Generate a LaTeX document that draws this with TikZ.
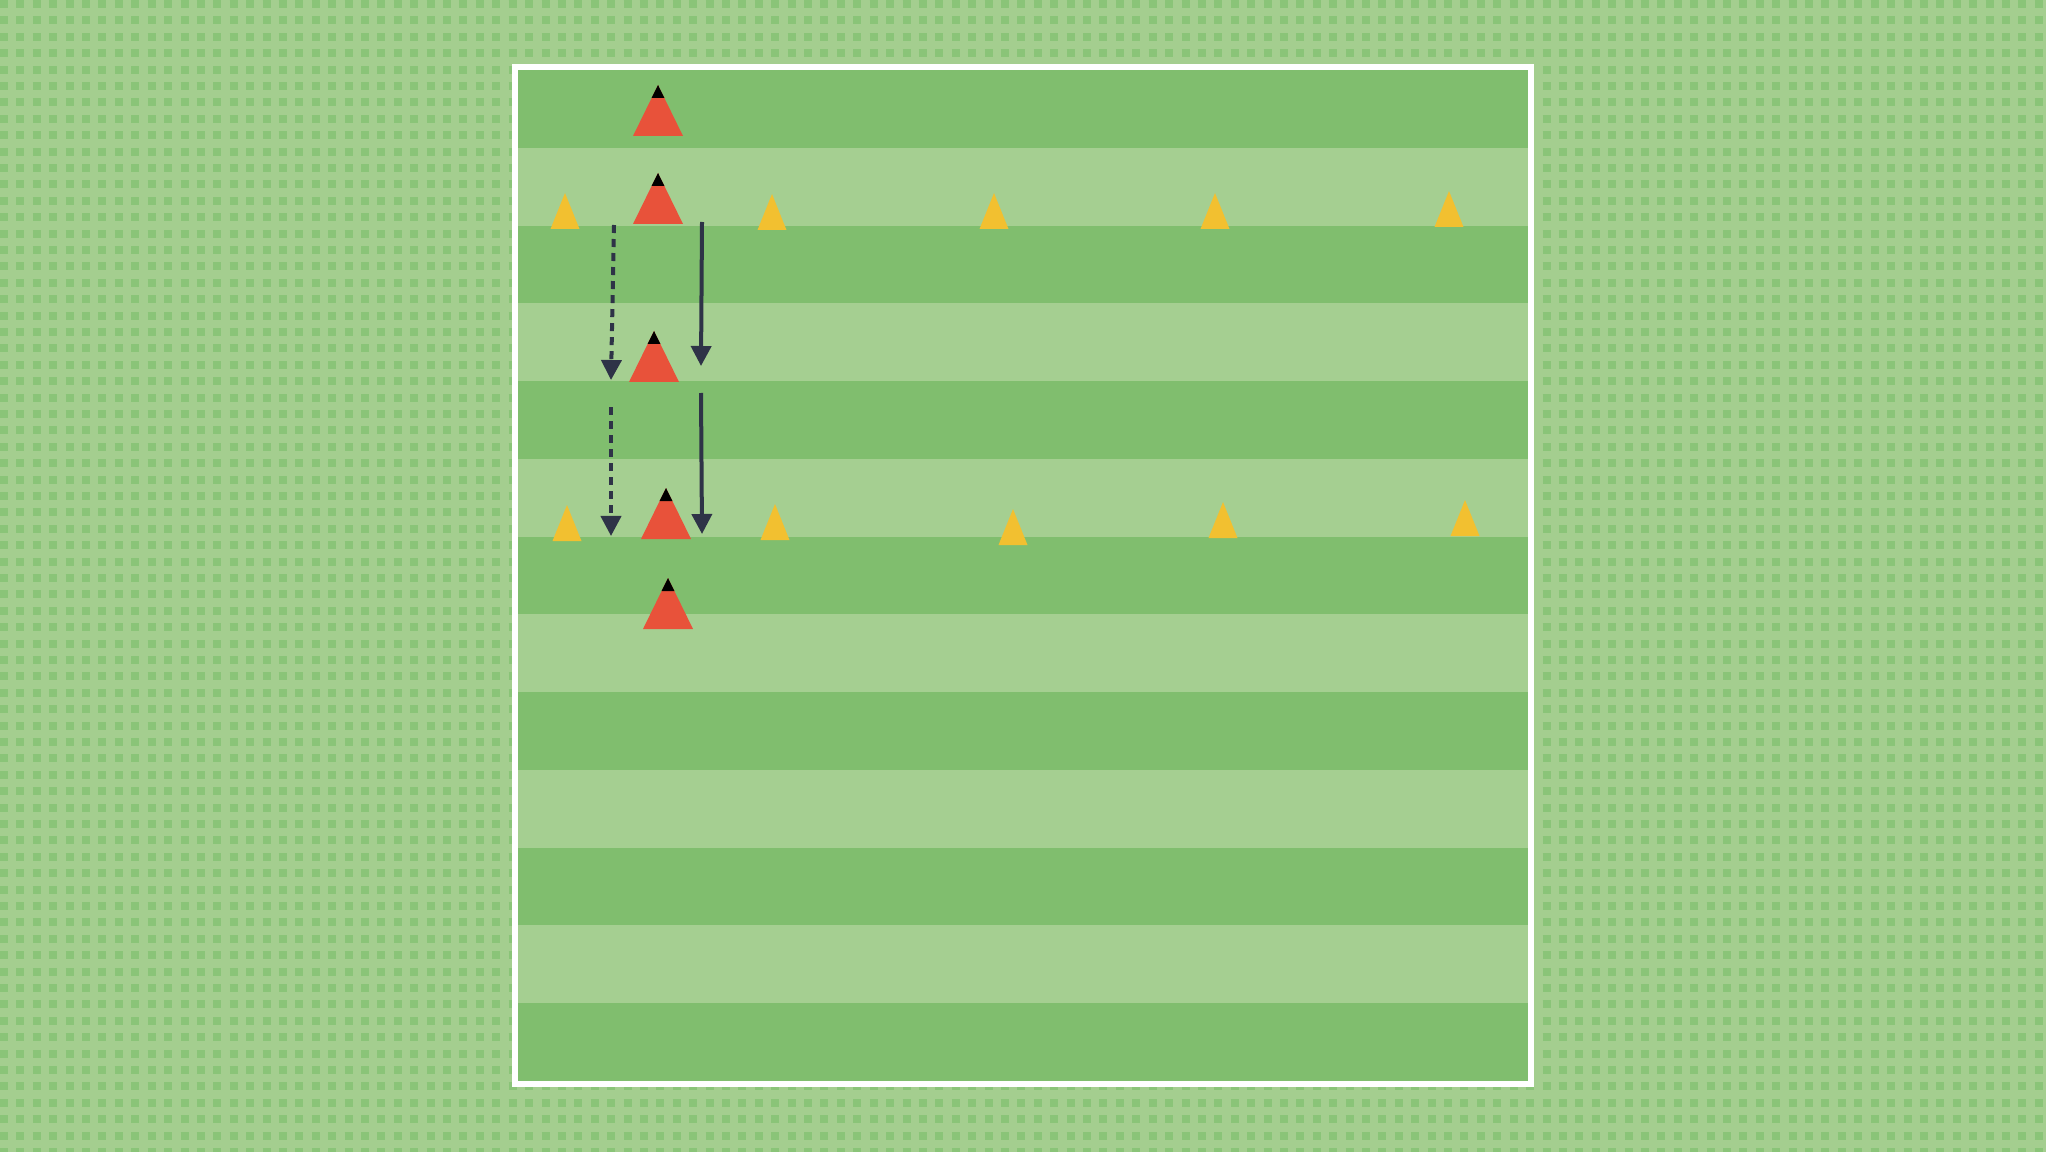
\documentclass[tikz,border=0pt]{standalone}
\usetikzlibrary{arrows.meta}

\definecolor{fond}{RGB}{164,206,143}
\definecolor{carre}{RGB}{138,196,120}
\definecolor{bandeA}{RGB}{128,190,110}
\definecolor{bandeB}{RGB}{165,207,145}
\definecolor{rouge}{RGB}{232,82,58}
\definecolor{jaune}{RGB}{242,192,48}
\definecolor{trait}{RGB}{46,51,71}

\newcommand{\plotrouge}[1]{
    \begin{scope}[shift={#1}]
        \fill[rouge] (-25,0) -- (25,0) -- (0,-51) -- cycle;
        \fill[black] (-6.4,-38) -- (6.4,-38) -- (0,-51) -- cycle;
    \end{scope}
}
\newcommand{\coupelle}[1]{
    \fill[jaune,shift={#1}] (-14.5,0) -- (14.5,0) -- (0,-36) -- cycle;
}

\tikzset{
    course/.style={trait, line width=0.04cm, -{Triangle[width=0.2cm,length=0.2cm]}},
    conduite/.style={course, dash pattern=on 0.08cm off 0.06cm},
}

\begin{document}
\begin{tikzpicture}[x=0.01cm,y=-0.01cm]
    \useasboundingbox (0,0) rectangle (2046,1152);

    % fond a carreaux
    \fill[fond] (0,0) rectangle (2046,1152);
    \foreach \j in {0,...,70}
        \draw[carre, line width=0.08cm, dash pattern=on 0.08cm off 0.084cm] (0,4+16.4*\j) -- (2046,4+16.4*\j);

    % terrain
    \fill[white] (512,64) rectangle (1534,1087);
    \foreach \i in {0,...,12} {
        \pgfmathsetmacro{\ya}{70+77.77*\i}
        \pgfmathsetmacro{\yb}{70+77.77*(\i+1)}
        \ifodd\i
            \fill[bandeB] (518,\ya) rectangle (1528,\yb);
        \else
            \fill[bandeA] (518,\ya) rectangle (1528,\yb);
        \fi
    }

    % plots
    \plotrouge{(658,136)}
    \plotrouge{(658,224)}
    \plotrouge{(654,382)}
    \plotrouge{(666,539)}
    \plotrouge{(668,629)}

    % coupelles
    \coupelle{(565,229)}
    \coupelle{(772,230)}
    \coupelle{(994,229)}
    \coupelle{(1215,229)}
    \coupelle{(1449,227)}
    \coupelle{(567,541)}
    \coupelle{(775,540)}
    \coupelle{(1013,545)}
    \coupelle{(1223,538)}
    \coupelle{(1465,536)}

    % courses
    \coordinate (cond1a) at (614,225);
    \coordinate (cond1b) at (611,380);
    \coordinate (cond2a) at (611,407);
    \coordinate (cond2b) at (611,536);
    \coordinate (sans1a) at (702,222);
    \coordinate (sans1b) at (701,366);
    \coordinate (sans2a) at (701,393);
    \coordinate (sans2b) at (702,534);

    \draw[conduite] (cond1a) -- (cond1b);
    \draw[conduite] (cond2a) -- (cond2b);
    \draw[course] (sans1a) -- (sans1b);
    \draw[course] (sans2a) -- (sans2b);
\end{tikzpicture}
\end{document}
